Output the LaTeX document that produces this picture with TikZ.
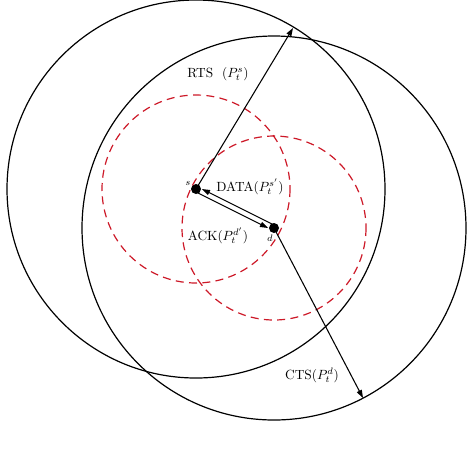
\documentclass[tikz,border=0pt]{standalone}
\usetikzlibrary{calc,arrows.meta}
\definecolor{rangered}{RGB}{205,25,40}
\tikzset{every picture/.style={line width=0.75pt}}
\tikzset{
  station/.style={circle, fill=black, inner sep=0pt, minimum size=7.5pt},
  txrange/.style={draw=black, line width=0.9pt},
  sensrange/.style={draw=rangered, line width=0.9pt, dash pattern=on 6pt off 4pt},
  msgarrow/.style={-{Triangle[length=6pt,width=4pt]}, line width=0.8pt},
  lbl/.style={inner sep=0.75pt, font=\normalsize}
}
\begin{document}
\begin{tikzpicture}[x=0.75pt,y=0.75pt,yscale=-1,xscale=1]
\path[use as bounding box] (0,0) rectangle (474,455);

%Stations
\node (s) [station] at (196,189) {};
\node (d) [station] at (274,228) {};
\coordinate (rtsend) at (293,28);
\coordinate (ctsend) at (363,398);

%Shape: Circle [transmission ranges]
\draw [txrange] (s.center) circle [radius=189];
\draw [txrange] (d.center) circle [radius=192];
%Shape: Circle [reduced ranges]
\draw [sensrange] (s.center) circle [radius=94];
\draw [sensrange] (d.center) circle [radius=92];

%Straight Lines [RTS, CTS]
\draw [msgarrow] (s.center) -- (rtsend);
\draw [msgarrow] (d.center) -- (ctsend);
%Straight Lines [DATA, ACK]
\draw [msgarrow, shorten >=4pt] ($(s)!2pt!90:(d)$) -- ($(d)!2pt!-90:(s)$);
\draw [msgarrow, shorten >=4pt] ($(d)!2pt!90:(s)$) -- ($(s)!2pt!-90:(d)$);

% Text Node
\node (rtslbl) [lbl] at (218,74) {RTS\ \ $(P_t^{s})$};
% Text Node
\node (datalbl) [lbl] at (250,187) {DATA$(P_t^{s'})$};
% Text Node
\node (acklbl) [lbl] at (218,236) {ACK$(P_t^{d'})$};
% Text Node
\node (ctslbl) [lbl] at (312,375) {CTS$(P_t^{d})$};
% Text Node
\node (slbl) [inner sep=0.75pt, font=\scriptsize] at (188,183) {$s$};
% Text Node
\node (dlbl) [inner sep=0.75pt, font=\scriptsize] at (270,238) {$d$};

\end{tikzpicture}
\end{document}
